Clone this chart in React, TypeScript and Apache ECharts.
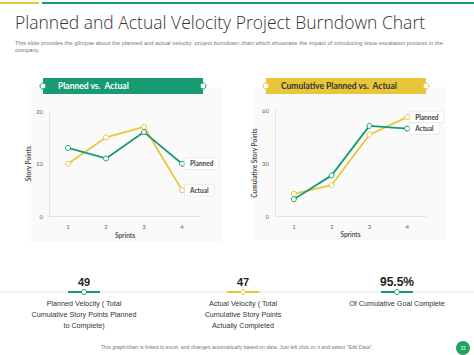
import React, { useEffect, useRef } from "react";
import * as echarts from "echarts";

const sprints = ["1", "2", "3", "4"];
const plannedVelocity = [13, 11, 16, 10];
const actualVelocity = [10, 15, 17, 5];
const cumulativePlanned = [12.5, 17.5, 46, 56];
const cumulativeActual = [9.5, 23, 51, 49.5];
const velocityTicks = { min: 0, max: 20, interval: 10 };
const cumulativeTicks = { min: 0, max: 60, interval: 30 };
const kpiValues = ["49", "47", "95.5%"];
const kpiLabels = [
  "Planned Velocity ( Total\nCumulative Story Points Planned\nto Complete)",
  "Actual Velocity ( Total\nCumulative Story Points\nActually Completed",
  "Of Cumulative Goal Complete",
];

const GREEN = "#189a72";
const YELLOW = "#e9c53a";
const FONT = "Lato";

export default function App() {
  const ref = useRef<HTMLDivElement>(null);
  useEffect(() => {
    const chart = echarts.init(ref.current!, null, { renderer: "svg" });
    const lineSeries = (name: string, data: number[], color: string, idx: number, endName: string) => ({
      type: "line",
      name,
      xAxisIndex: idx,
      yAxisIndex: idx,
      data,
      symbol: "circle",
      symbolSize: 5,
      itemStyle: { color: "#fff", borderColor: color, borderWidth: 1 },
      lineStyle: { color, width: 1.8 },
      z: color === GREEN ? 3 : 2,
      endLabel: {
        show: true,
        formatter: endName,
        color: "#444",
        fontFamily: FONT,
        fontWeight: "bold",
        fontSize: 6.5,
        borderColor: "#e2e2e2",
        borderWidth: 0.6,
        backgroundColor: "#fff",
        padding: [2, 5, 2, 5],
        distance: 3,
      },
    });
    const xAxis = (gridIndex: number) => ({
      type: "category",
      gridIndex,
      data: sprints,
      name: "Sprints",
      nameLocation: "middle",
      nameGap: 15,
      nameTextStyle: { color: "#555", fontFamily: FONT, fontWeight: "bold", fontSize: 6.5 },
      axisLine: { lineStyle: { color: "#e4e4e4" } },
      axisTick: { show: false },
      axisLabel: { color: "#666", fontFamily: FONT, fontSize: 6, margin: 7 },
    });
    const yAxis = (gridIndex: number, ticks: any, name: string, gap: number) => ({
      type: "value",
      gridIndex,
      ...ticks,
      name,
      nameLocation: "middle",
      nameGap: gap,
      nameTextStyle: { color: "#555", fontFamily: FONT, fontWeight: "bold", fontSize: 6.5 },
      axisLine: { show: true, lineStyle: { color: "#e4e4e4" } },
      axisTick: { show: false },
      splitLine: { show: false },
      axisLabel: { color: "#666", fontFamily: FONT, fontSize: 6, margin: 6 },
    });
    const kpiX = [84, 243, 397];
    const kpiColors = [GREEN, YELLOW, GREEN];
    const graphics: any[] = [
      { type: "rect", shape: { x: 0, y: 2, width: 39, height: 2 }, style: { fill: YELLOW } },
      { type: "rect", shape: { x: 42, y: 2, width: 432, height: 2 }, style: { fill: GREEN } },
      {
        type: "text", x: 15, y: 13,
        style: { text: "Planned and Actual Velocity Project Burndown Chart", fill: "#333", font: `300 17.5px "Open Sans"` },
      },
      {
        type: "text", x: 15, y: 39,
        style: {
          text: "This slide provides the glimpse about the planned and actual velocity  project burndown chart which showcase the impact of introducing issue escalation process in the\ncompany.",
          fill: "#777", font: `5.8px "Liberation Sans"`, lineHeight: 7.5,
        },
      },
      { type: "rect", z: -10, shape: { x: 28, y: 87, width: 194, height: 155 }, style: { fill: "#fafafa" } },
      { type: "rect", z: -10, shape: { x: 255, y: 87, width: 190, height: 153 }, style: { fill: "#fafafa" } },
      { type: "rect", shape: { x: 43, y: 78, width: 160, height: 16 }, style: { fill: GREEN } },
      { type: "circle", shape: { cx: 43, cy: 86, r: 3 }, style: { fill: "#fff", stroke: GREEN, lineWidth: 1 } },
      { type: "circle", shape: { cx: 203, cy: 86, r: 3 }, style: { fill: "#fff", stroke: GREEN, lineWidth: 1 } },
      { type: "text", x: 58, y: 86, style: { text: "Planned vs.  Actual", fill: "#fff", font: `bold 8.5px ${FONT}`, verticalAlign: "middle" } },
      { type: "rect", shape: { x: 266, y: 78, width: 160, height: 16 }, style: { fill: YELLOW } },
      { type: "circle", shape: { cx: 266, cy: 86, r: 3 }, style: { fill: "#fff", stroke: YELLOW, lineWidth: 1 } },
      { type: "circle", shape: { cx: 426, cy: 86, r: 3 }, style: { fill: "#fff", stroke: YELLOW, lineWidth: 1 } },
      { type: "text", x: 281, y: 86, style: { text: "Cumulative Planned vs.  Actual", fill: "#333", font: `bold 8.5px ${FONT}`, verticalAlign: "middle" } },
      { type: "line", shape: { x1: 0, y1: 292, x2: 474, y2: 292 }, style: { stroke: "#e6e6e6", lineWidth: 1 } },
      {
        type: "text", x: 237, y: 347,
        style: {
          text: 'This graph/chart is linked to excel, and changes automatically based on data. Just left click on it and select "Edit Data".',
          fill: "#777", font: `5.2px "Liberation Sans"`, align: "center", verticalAlign: "middle",
        },
      },
      { type: "circle", shape: { cx: 463, cy: 348, r: 7 }, style: { fill: "#1fa35d" } },
      { type: "text", x: 463, y: 348, style: { text: "33", fill: "#fff", font: `4.5px "Liberation Sans"`, align: "center", verticalAlign: "middle" } },
    ];
    kpiValues.forEach((v, i) => {
      const cx = kpiX[i];
      graphics.push(
        { type: "text", x: cx, y: 282, style: { text: v, fill: "#222", font: `bold ${i === 2 ? 12 : 11}px "Liberation Sans"`, align: "center", verticalAlign: "middle" } },
        { type: "line", shape: { x1: cx - 16, y1: 292, x2: cx + 16, y2: 292 }, style: { stroke: kpiColors[i], lineWidth: 2 } },
        { type: "circle", shape: { cx, cy: 292, r: 2.5 }, style: { fill: "#fff", stroke: kpiColors[i], lineWidth: 1 } },
        { type: "text", x: cx, y: 298, style: { text: kpiLabels[i], fill: "#333", font: `7.2px "Liberation Sans"`, align: "center", lineHeight: 11 } },
      );
    });
    chart.setOption({
      animation: false,
      grid: [
        { left: 49, top: 111, width: 152, height: 105.5 },
        { left: 275, top: 110, width: 151, height: 106 },
      ],
      xAxis: [xAxis(0), xAxis(1)],
      yAxis: [
        yAxis(0, velocityTicks, "Story Points", 14),
        yAxis(1, cumulativeTicks, "Cumulative Story Points", 16),
      ],
      series: [
        lineSeries("Actual", actualVelocity, YELLOW, 0, "Actual"),
        lineSeries("Planned", plannedVelocity, GREEN, 0, "Planned"),
        lineSeries("Planned", cumulativePlanned, YELLOW, 1, "Planned"),
        lineSeries("Actual", cumulativeActual, GREEN, 1, "Actual"),
      ],
      graphic: graphics,
    });
    return () => chart.dispose();
  }, []);
  return <div ref={ref} style={{ position: "fixed", left: 0, top: 0, width: 474, height: 355, background: "#fff" }} />;
}
